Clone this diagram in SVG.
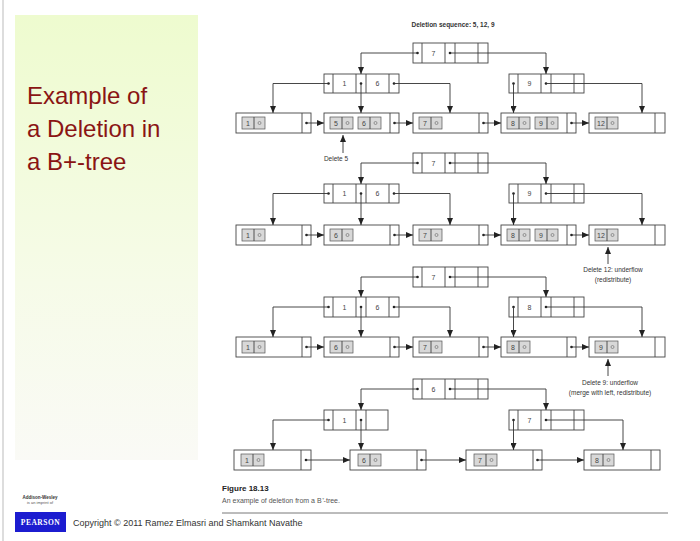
<svg xmlns="http://www.w3.org/2000/svg" width="700" height="541" viewBox="0 0 700 541">
<defs>
<linearGradient id="gp" x1="0" y1="0" x2="0" y2="1"><stop offset="0" stop-color="#eefbcf"/><stop offset="0.6" stop-color="#f6fbe8"/><stop offset="1" stop-color="#fafaf6"/></linearGradient>
<marker id="ah" markerUnits="userSpaceOnUse" markerWidth="8" markerHeight="6" refX="7" refY="3" orient="auto"><path d="M0,0 L7,3 L0,6 z" fill="#222"/></marker>
</defs>
<style>
.n{fill:#fff;stroke:#444;stroke-width:0.9}
.l{stroke:#444;stroke-width:0.9}
.e{fill:#d8d8d8;stroke:#555;stroke-width:0.7}
.t{font-family:"Liberation Sans",Arial,sans-serif;font-size:7px;fill:#444;text-anchor:middle}
.d{fill:#222}
.c path,path.c{fill:none;stroke:#333;stroke-width:0.9;marker-end:url(#ah)}
.o{fill:none;stroke:#666;stroke-width:0.6}
.s{font-family:"Liberation Sans",Arial,sans-serif;font-size:6.5px;fill:#333;text-anchor:middle}
</style>
<rect width="700" height="541" fill="#fff"/>
<line x1="3" y1="0" x2="3" y2="541" stroke="#ddd" stroke-width="2"/>
<rect x="15" y="15" width="183" height="445" fill="url(#gp)"/>
<g font-family="'Liberation Sans',Arial,sans-serif" font-size="24" fill="#8a1414">
<text x="27" y="104">Example of</text>
<text x="27" y="137">a Deletion in</text>
<text x="27" y="170">a B+-tree</text>
</g>
<text x="453" y="27" class="s" font-weight="bold">Deletion sequence: 5, 12, 9</text>

<g id="tree1" transform="translate(0,43)">
<g id="t1-root"><rect class="n" x="413" y="0" width="75" height="20"/><path class="l" d="M422 0V20M445 0V20M455 0V20M478 0V20"/><text class="t" x="433.5" y="12.5">7</text><circle class="d" cx="417.5" cy="10" r="1.3"/><circle class="d" cx="450" cy="10" r="1.3"/></g>
<g id="t1-il"><rect class="n" x="324" y="31" width="75" height="19"/><path class="l" d="M333 31V50M356 31V50M366 31V50M389 31V50"/><text class="t" x="344.5" y="43">1</text><text class="t" x="377.5" y="43">6</text><circle class="d" cx="328.5" cy="40.5" r="1.3"/><circle class="d" cx="361" cy="40.5" r="1.3"/><circle class="d" cx="394" cy="40.5" r="1.3"/></g>
<g id="t1-ir"><rect class="n" x="509" y="31" width="75" height="19"/><path class="l" d="M518 31V50M541 31V50M551 31V50M574 31V50"/><text class="t" x="529.5" y="43">9</text><circle class="d" cx="513.5" cy="40.5" r="1.3"/><circle class="d" cx="546" cy="40.5" r="1.3"/></g>
<g id="t1-l1"><rect class="n" x="236" y="70" width="75" height="20"/><path class="l" d="M302 70V90"/><rect class="e" x="242" y="74" width="23" height="12"/><path class="l" d="M254 74V86"/><text class="t" x="248" y="82.5">1</text><circle class="o" cx="259.5" cy="80" r="1.5"/><circle class="d" cx="306.5" cy="80" r="1.3"/></g>
<g id="t1-l2"><rect class="n" x="324" y="70" width="75" height="20"/><path class="l" d="M390 70V90"/><rect class="e" x="330" y="74" width="23" height="12"/><path class="l" d="M342 74V86"/><text class="t" x="336" y="82.5">5</text><circle class="o" cx="347.5" cy="80" r="1.5"/><rect class="e" x="358" y="74" width="23" height="12"/><path class="l" d="M370 74V86"/><text class="t" x="364" y="82.5">6</text><circle class="o" cx="375.5" cy="80" r="1.5"/><circle class="d" cx="394.5" cy="80" r="1.3"/></g>
<g id="t1-l3"><rect class="n" x="413" y="70" width="75" height="20"/><path class="l" d="M479 70V90"/><rect class="e" x="419" y="74" width="23" height="12"/><path class="l" d="M431 74V86"/><text class="t" x="425" y="82.5">7</text><circle class="o" cx="436.5" cy="80" r="1.5"/><circle class="d" cx="483.5" cy="80" r="1.3"/></g>
<g id="t1-l4"><rect class="n" x="501" y="70" width="75" height="20"/><path class="l" d="M567 70V90"/><rect class="e" x="507" y="74" width="23" height="12"/><path class="l" d="M519 74V86"/><text class="t" x="513" y="82.5">8</text><circle class="o" cx="524.5" cy="80" r="1.5"/><rect class="e" x="535" y="74" width="23" height="12"/><path class="l" d="M547 74V86"/><text class="t" x="541" y="82.5">9</text><circle class="o" cx="552.5" cy="80" r="1.5"/><circle class="d" cx="571.5" cy="80" r="1.3"/></g>
<g id="t1-l5"><rect class="n" x="589" y="70" width="76" height="20"/><path class="l" d="M655 70V90"/><rect class="e" x="595" y="74" width="23" height="12"/><path class="l" d="M607 74V86"/><text class="t" x="601" y="82.5">12</text><circle class="o" cx="612.5" cy="80" r="1.5"/></g>
<g id="t1-conn" class="c"><path d="M417.5 10H361V31"/><path d="M450 10H546V31"/><path d="M328.5 40.5H273V70"/><path d="M361 40.5V70"/><path d="M394 40.5H450V70"/><path d="M513.5 40.5V70"/><path d="M546 40.5H642V70"/><path d="M306.5 80H324"/><path d="M394.5 80H413"/><path d="M483.5 80H501"/><path d="M571.5 80H589"/></g>
</g>

<g id="tree2" transform="translate(0,153)">
<g id="t2-root"><rect class="n" x="413" y="0" width="75" height="20"/><path class="l" d="M422 0V20M445 0V20M455 0V20M478 0V20"/><text class="t" x="433.5" y="12.5">7</text><circle class="d" cx="417.5" cy="10" r="1.3"/><circle class="d" cx="450" cy="10" r="1.3"/></g>
<g id="t2-il"><rect class="n" x="324" y="31" width="75" height="19"/><path class="l" d="M333 31V50M356 31V50M366 31V50M389 31V50"/><text class="t" x="344.5" y="43">1</text><text class="t" x="377.5" y="43">6</text><circle class="d" cx="328.5" cy="40.5" r="1.3"/><circle class="d" cx="361" cy="40.5" r="1.3"/><circle class="d" cx="394" cy="40.5" r="1.3"/></g>
<g id="t2-ir"><rect class="n" x="509" y="31" width="75" height="19"/><path class="l" d="M518 31V50M541 31V50M551 31V50M574 31V50"/><text class="t" x="529.5" y="43">9</text><circle class="d" cx="513.5" cy="40.5" r="1.3"/><circle class="d" cx="546" cy="40.5" r="1.3"/></g>
<g id="t2-l1"><rect class="n" x="236" y="72" width="75" height="20"/><path class="l" d="M302 72V92"/><rect class="e" x="242" y="76" width="23" height="12"/><path class="l" d="M254 76V88"/><text class="t" x="248" y="84.5">1</text><circle class="o" cx="259.5" cy="82" r="1.5"/><circle class="d" cx="306.5" cy="82" r="1.3"/></g>
<g id="t2-l2"><rect class="n" x="324" y="72" width="75" height="20"/><path class="l" d="M390 72V92"/><rect class="e" x="330" y="76" width="23" height="12"/><path class="l" d="M342 76V88"/><text class="t" x="336" y="84.5">6</text><circle class="o" cx="347.5" cy="82" r="1.5"/><circle class="d" cx="394.5" cy="82" r="1.3"/></g>
<g id="t2-l3"><rect class="n" x="413" y="72" width="75" height="20"/><path class="l" d="M479 72V92"/><rect class="e" x="419" y="76" width="23" height="12"/><path class="l" d="M431 76V88"/><text class="t" x="425" y="84.5">7</text><circle class="o" cx="436.5" cy="82" r="1.5"/><circle class="d" cx="483.5" cy="82" r="1.3"/></g>
<g id="t2-l4"><rect class="n" x="501" y="72" width="75" height="20"/><path class="l" d="M567 72V92"/><rect class="e" x="507" y="76" width="23" height="12"/><path class="l" d="M519 76V88"/><text class="t" x="513" y="84.5">8</text><circle class="o" cx="524.5" cy="82" r="1.5"/><rect class="e" x="535" y="76" width="23" height="12"/><path class="l" d="M547 76V88"/><text class="t" x="541" y="84.5">9</text><circle class="o" cx="552.5" cy="82" r="1.5"/><circle class="d" cx="571.5" cy="82" r="1.3"/></g>
<g id="t2-l5"><rect class="n" x="589" y="72" width="76" height="20"/><path class="l" d="M655 72V92"/><rect class="e" x="595" y="76" width="23" height="12"/><path class="l" d="M607 76V88"/><text class="t" x="601" y="84.5">12</text><circle class="o" cx="612.5" cy="82" r="1.5"/></g>
<g id="t2-conn" class="c"><path d="M417.5 10H361V31"/><path d="M450 10H546V31"/><path d="M328.5 40.5H273V72"/><path d="M361 40.5V72"/><path d="M394 40.5H450V72"/><path d="M513.5 40.5V72"/><path d="M546 40.5H642V72"/><path d="M306.5 82H324"/><path d="M394.5 82H413"/><path d="M483.5 82H501"/><path d="M571.5 82H589"/></g>
</g>

<g id="tree3" transform="translate(0,267)">
<g id="t3-root"><rect class="n" x="413" y="0" width="75" height="20"/><path class="l" d="M422 0V20M445 0V20M455 0V20M478 0V20"/><text class="t" x="433.5" y="12.5">7</text><circle class="d" cx="417.5" cy="10" r="1.3"/><circle class="d" cx="450" cy="10" r="1.3"/></g>
<g id="t3-il"><rect class="n" x="324" y="30" width="75" height="20"/><path class="l" d="M333 30V50M356 30V50M366 30V50M389 30V50"/><text class="t" x="344.5" y="42.5">1</text><text class="t" x="377.5" y="42.5">6</text><circle class="d" cx="328.5" cy="40" r="1.3"/><circle class="d" cx="361" cy="40" r="1.3"/><circle class="d" cx="394" cy="40" r="1.3"/></g>
<g id="t3-ir"><rect class="n" x="509" y="30" width="75" height="20"/><path class="l" d="M518 30V50M541 30V50M551 30V50M574 30V50"/><text class="t" x="529.5" y="42.5">8</text><circle class="d" cx="513.5" cy="40" r="1.3"/><circle class="d" cx="546" cy="40" r="1.3"/></g>
<g id="t3-l1"><rect class="n" x="236" y="70" width="75" height="20"/><path class="l" d="M302 70V90"/><rect class="e" x="242" y="74" width="23" height="12"/><path class="l" d="M254 74V86"/><text class="t" x="248" y="82.5">1</text><circle class="o" cx="259.5" cy="80" r="1.5"/><circle class="d" cx="306.5" cy="80" r="1.3"/></g>
<g id="t3-l2"><rect class="n" x="324" y="70" width="75" height="20"/><path class="l" d="M390 70V90"/><rect class="e" x="330" y="74" width="23" height="12"/><path class="l" d="M342 74V86"/><text class="t" x="336" y="82.5">6</text><circle class="o" cx="347.5" cy="80" r="1.5"/><circle class="d" cx="394.5" cy="80" r="1.3"/></g>
<g id="t3-l3"><rect class="n" x="413" y="70" width="75" height="20"/><path class="l" d="M479 70V90"/><rect class="e" x="419" y="74" width="23" height="12"/><path class="l" d="M431 74V86"/><text class="t" x="425" y="82.5">7</text><circle class="o" cx="436.5" cy="80" r="1.5"/><circle class="d" cx="483.5" cy="80" r="1.3"/></g>
<g id="t3-l4"><rect class="n" x="501" y="70" width="75" height="20"/><path class="l" d="M567 70V90"/><rect class="e" x="507" y="74" width="23" height="12"/><path class="l" d="M519 74V86"/><text class="t" x="513" y="82.5">8</text><circle class="o" cx="524.5" cy="80" r="1.5"/><circle class="d" cx="571.5" cy="80" r="1.3"/></g>
<g id="t3-l5"><rect class="n" x="589" y="70" width="76" height="20"/><path class="l" d="M655 70V90"/><rect class="e" x="595" y="74" width="23" height="12"/><path class="l" d="M607 74V86"/><text class="t" x="601" y="82.5">9</text><circle class="o" cx="612.5" cy="80" r="1.5"/></g>
<g id="t3-conn" class="c"><path d="M417.5 10H361V30"/><path d="M450 10H546V30"/><path d="M328.5 40H273V70"/><path d="M361 40V70"/><path d="M394 40H450V70"/><path d="M513.5 40V70"/><path d="M546 40H642V70"/><path d="M306.5 80H324"/><path d="M394.5 80H413"/><path d="M483.5 80H501"/><path d="M571.5 80H589"/></g>
</g>

<g id="tree4" transform="translate(0,379)">
<g id="t4-root"><rect class="n" x="413" y="0" width="75" height="20"/><path class="l" d="M422 0V20M445 0V20M455 0V20M478 0V20"/><text class="t" x="433.5" y="12.5">6</text><circle class="d" cx="417.5" cy="10" r="1.3"/><circle class="d" cx="450" cy="10" r="1.3"/></g>
<g id="t4-il"><rect class="n" x="324" y="31" width="64" height="20"/><path class="l" d="M333 31V51M356 31V51M366 31V51"/><text class="t" x="344.5" y="43.5">1</text><circle class="d" cx="328.5" cy="41" r="1.3"/><circle class="d" cx="361" cy="41" r="1.3"/></g>
<g id="t4-ir"><rect class="n" x="509" y="31" width="75" height="20"/><path class="l" d="M518 31V51M541 31V51M551 31V51M574 31V51"/><text class="t" x="529.5" y="43.5">7</text><circle class="d" cx="513.5" cy="41" r="1.3"/><circle class="d" cx="546" cy="41" r="1.3"/></g>
<g id="t4-l1"><rect class="n" x="234" y="71" width="77" height="20"/><path class="l" d="M301 71V91"/><rect class="e" x="241" y="75" width="23" height="12"/><path class="l" d="M253 75V87"/><text class="t" x="247" y="83.5">1</text><circle class="o" cx="258.5" cy="81" r="1.5"/><circle class="d" cx="306" cy="81" r="1.3"/></g>
<g id="t4-l2"><rect class="n" x="350" y="71" width="76" height="20"/><path class="l" d="M417 71V91"/><rect class="e" x="358" y="75" width="23" height="12"/><path class="l" d="M370 75V87"/><text class="t" x="364" y="83.5">6</text><circle class="o" cx="375.5" cy="81" r="1.5"/><circle class="d" cx="421.5" cy="81" r="1.3"/></g>
<g id="t4-l3"><rect class="n" x="466" y="71" width="76" height="20"/><path class="l" d="M533 71V91"/><rect class="e" x="474" y="75" width="23" height="12"/><path class="l" d="M486 75V87"/><text class="t" x="480" y="83.5">7</text><circle class="o" cx="491.5" cy="81" r="1.5"/><circle class="d" cx="537.5" cy="81" r="1.3"/></g>
<g id="t4-l4"><rect class="n" x="584" y="71" width="76" height="20"/><path class="l" d="M651 71V91"/><rect class="e" x="591" y="75" width="23" height="12"/><path class="l" d="M603 75V87"/><text class="t" x="597" y="83.5">8</text><circle class="o" cx="608.5" cy="81" r="1.5"/></g>
<g id="t4-conn" class="c"><path d="M417.5 10H361V31"/><path d="M450 10H546V31"/><path d="M328.5 41H273V71"/><path d="M361 41V71"/><path d="M513.5 41V71"/><path d="M546 41H623V71"/><path d="M306 81H350"/><path d="M421.5 81H466"/><path d="M537.5 81H584"/></g>
</g>

<g id="annotations">
<path class="c" d="M343 153V135"/>
<text class="s" x="336" y="161">Delete 5</text>
<path class="c" d="M608 264V247"/>
<text class="s" x="613" y="272">Delete 12: underflow</text>
<text class="s" x="613" y="282">(redistribute)</text>
<path class="c" d="M608 376V359"/>
<text class="s" x="610" y="385">Delete 9: underflow</text>
<text class="s" x="610" y="395">(merge with left, redistribute)</text>
</g>

<text x="222" y="491" font-family="'Liberation Sans',Arial,sans-serif" font-size="8" font-weight="bold" fill="#222">Figure 18.13</text>
<text x="222" y="503" font-family="'Liberation Sans',Arial,sans-serif" font-size="7" fill="#555">An example of deletion from a B⁺-tree.</text>
<line x1="222" y1="513" x2="668" y2="513" stroke="#555" stroke-width="0.8"/>
<text x="40" y="499" font-family="'Liberation Sans',Arial,sans-serif" font-size="4.5" font-weight="bold" fill="#333" text-anchor="middle">Addison-Wesley</text>
<text x="40" y="504" font-family="'Liberation Sans',Arial,sans-serif" font-size="4" fill="#555" text-anchor="middle">is an imprint of</text>
<rect x="15" y="512" width="51" height="20" fill="#1c1cd0"/>
<text x="40.5" y="525" font-family="'Liberation Serif',serif" font-size="7.5" font-weight="bold" fill="#fff" text-anchor="middle" letter-spacing="0.5">PEARSON</text>
<text x="73" y="526" font-family="'Liberation Sans',Arial,sans-serif" font-size="9" fill="#333">Copyright © 2011 Ramez Elmasri and Shamkant Navathe</text>
</svg>
